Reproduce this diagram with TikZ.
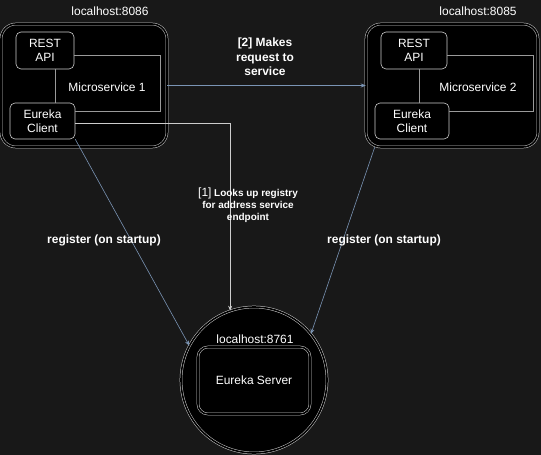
\documentclass[tikz,border=0pt]{standalone}
\usepackage{fontspec}
\setmainfont{Liberation Sans}
\usetikzlibrary{arrows.meta}

\definecolor{bgdark}{RGB}{24,24,24}
\definecolor{linkblue}{RGB}{122,148,180}
\definecolor{boxline}{RGB}{205,205,205}

\tikzset{
  service/.style={draw=boxline, double=black, double distance=1.6bp, line width=0.5bp, fill=black, rounded corners=15bp, inner sep=0pt},
  hub/.style={circle, draw=boxline, double=black, double distance=1.6bp, line width=0.5bp, fill=black, inner sep=0pt},
  part/.style={draw=boxline, line width=0.6bp, fill=black, rounded corners=5bp, text=white, align=center, inner sep=0pt, font=\fontsize{12}{14}\selectfont},
  wire/.style={draw=boxline!75!black, line width=0.6bp},
  call/.style={draw=linkblue, line width=0.6bp, -{Stealth[length=5bp,width=4bp]}},
  lookup/.style={draw=boxline, line width=0.6bp, -{Stealth[length=5bp,width=4bp]}},
  txt/.style={text=white, font=\fontsize{12}{14}\selectfont, align=center},
  bold/.style={text=white, font=\bfseries\fontsize{12}{14.5}\selectfont, align=center},
}

\begin{document}
\begin{tikzpicture}[x=1bp,y=-1bp]

% Background
\fill[bgdark] (0,0) rectangle (541,455);
\useasboundingbox (0,0) rectangle (541,455);

% Microservice 1
\node[txt] (host1) at (110,11) {localhost:8086};
\node[service, minimum width=166bp, minimum height=123bp] (ms1) at (84,85.5) {};
\node[part, minimum width=58bp, minimum height=37bp] (rest1) at (45,50.5) {REST\\API};
\node[part, minimum width=65bp, minimum height=36bp] (ec1) at (42.5,121) {Eureka\\Client};
\node[txt] (name1) at (107,87) {Microservice 1};
\draw[wire] ([xshift=10bp]rest1.south) -- ([xshift=10bp]rest1.south |- ec1.north);
\draw[wire] ([yshift=-5bp]rest1.east) -- ++(86,0) |- ([yshift=10bp]ec1.east);

% Microservice 2
\node[txt] (host2) at (478,11) {localhost:8085};
\node[service, minimum width=172bp, minimum height=123bp] (ms2) at (452,85.5) {};
\node[part, minimum width=66bp, minimum height=37bp] (rest2) at (414,50.5) {REST\\API};
\node[part, minimum width=74bp, minimum height=36bp] (ec2) at (412,121) {Eureka\\Client};
\node[txt] (name2) at (478,87) {Microservice 2};
\draw[wire] ([xshift=5bp]rest2.south) -- ([xshift=5bp]rest2.south |- ec2.north);
\draw[wire] ([yshift=-5bp]rest2.east) -- ++(86,0) |- ([yshift=10bp]ec2.east);

% Eureka Server
\node[hub, minimum size=146bp] (srv) at (254,380) {};
\node[txt] (host3) at (255,339) {localhost:8761};
\node[service, rounded corners=10bp, minimum width=112bp, minimum height=67bp, text=white, font=\fontsize{12}{14}\selectfont] (eureka) at (254,380.5) {Eureka Server};

% [2] Request
\draw[call] (ms1.east) -- (ms2.west);
\node[bold] (lbl2) at (265,57) {[2] Makes\\request to\\service};

% [1] Lookup
\draw[lookup] ([yshift=-2bp]ec1.east) -| (srv.109);
\node[text=white, align=center, font=\bfseries\fontsize{10}{12}\selectfont] (lbl1) at (248,205)
  {{\mdseries\fontsize{12}{12}\selectfont [1]} Looks up registry\\for address service\\endpoint};

% Registration
\draw[call] (ec1.south east) -- (srv.152);
\draw[call] (ms2.south west -| ec2.south west) -- (srv.39);
\node[bold] (reg1) at (104,240) {register (on startup)};
\node[bold] (reg2) at (384,240) {register (on startup)};

\end{tikzpicture}
\end{document}
